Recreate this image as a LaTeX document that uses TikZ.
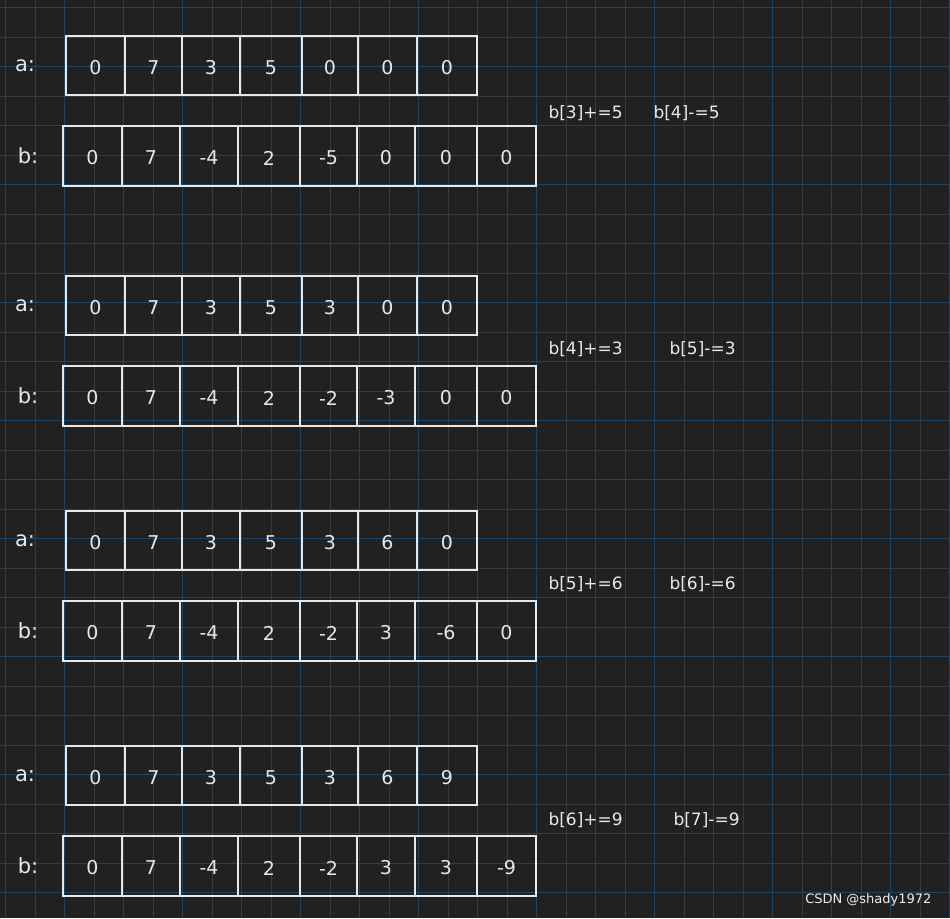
\documentclass[tikz,border=0pt]{standalone}
\usepackage{fontspec}
\setmainfont{DejaVu Sans}
\definecolor{bg}{HTML}{212121}
\definecolor{minor}{HTML}{3A3A3A}
\definecolor{major}{HTML}{1B4466}
\definecolor{ink}{HTML}{E8E8E8}
\begin{document}
\begin{tikzpicture}[x=1pt,y=-1pt,
  cell/.style={text=ink,font=\fontsize{19}{19}\selectfont},
  lbl/.style={text=ink,font=\fontsize{21}{21}\selectfont},
  note/.style={text=ink,font=\fontsize{17}{17}\selectfont,anchor=west},
  box/.style={draw=ink,line width=1.6pt}]
\fill[bg] (0,0) rectangle (950,918);
\useasboundingbox (0,0) rectangle (950,918);
\foreach \k in {0,...,16}{
  \draw[minor,line width=0.8pt] (35+59*\k,0) -- (35+59*\k,918);
  \draw[major,line width=0.8pt] (5+59*\k,0) -- (5+59*\k,918);
  \draw[minor,line width=0.8pt] (0,37+59*\k) -- (950,37+59*\k);
  \draw[major,line width=0.8pt] (0,7+59*\k) -- (950,7+59*\k);
}
\def\ax{{66,125,182,240,302,358,417,477}}
\def\bx{{63,122,180,238,300,357,415,477,536}}
\foreach \g/\oy/\ny/\mx/\avals/\bvals/\na/\nb in {
 0/0/113/650/{0,7,3,5,0,0,0}/{0,7,-4,2,-5,0,0,0}/{b[3]+=5}/{b[4]-=5},
 1/240/349/666/{0,7,3,5,3,0,0}/{0,7,-4,2,-2,-3,0,0}/{b[4]+=3}/{b[5]-=3},
 2/475/584/666/{0,7,3,5,3,6,0}/{0,7,-4,2,-2,3,-6,0}/{b[5]+=6}/{b[6]-=6},
 3/710/820/670/{0,7,3,5,3,6,9}/{0,7,-4,2,-2,3,3,-9}/{b[6]+=9}/{b[7]-=9}}{
  \node[lbl] (la\g) at (25,66+\oy) {a:};
  \node[lbl] (lb\g) at (28,156+\oy) {b:};
  \draw[box] (66,36+\oy) rectangle (477,95+\oy);
  \draw[box] (63,126+\oy) rectangle (536,186+\oy);
  \foreach \i in {1,...,6}{\pgfmathsetmacro\xx{\ax[\i]}\draw[box] (\xx,36+\oy) -- (\xx,95+\oy);}
  \foreach \i in {1,...,7}{\pgfmathsetmacro\xx{\bx[\i]}\draw[box] (\xx,126+\oy) -- (\xx,186+\oy);}
  \foreach \v [count=\j] in \avals {
    \pgfmathsetmacro\xl{\ax[\j-1]}\pgfmathsetmacro\xr{\ax[\j]}
    \node[cell] (a\g-\j) at ({(\xl+\xr)/2},68+\oy) {\v};}
  \foreach \v [count=\j] in \bvals {
    \pgfmathsetmacro\xl{\bx[\j-1]}\pgfmathsetmacro\xr{\bx[\j]}
    \node[cell] (b\g-\j) at ({(\xl+\xr)/2},158+\oy) {\v};}
  \node[note] (n\g) at (545,\ny) {\na};
  \node[note] (m\g) at (\mx,\ny) {\nb};
}
\node[text=ink!80,font=\fontsize{13}{13}\selectfont,anchor=east] (wm) at (935,900) {CSDN @shady1972};
\end{tikzpicture}
\end{document}
